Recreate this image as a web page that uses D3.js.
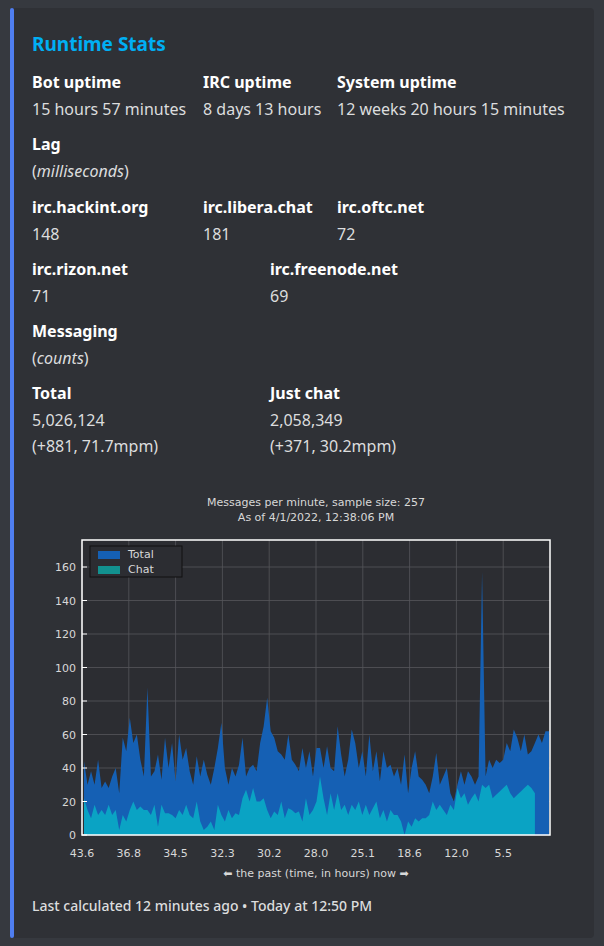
<!DOCTYPE html>
<html><head><meta charset="utf-8">
<script src="https://cdn.jsdelivr.net/npm/d3@7"></script>
<style>body{margin:0;background:#36393f;}svg{display:block}</style>
</head><body>
<script>
const xTickLabels=["43.6","36.8","34.5","32.3","30.2","28.0","25.1","18.6","12.0","5.5"];
const yTicks=[0,20,40,60,80,100,120,140,160];
const total=[44,30,38,30,45,28,32,28,35,40,25,58,50,70,55,60,45,35,88,35,38,48,33,58,40,55,32,60,45,52,38,30,47,35,45,36,30,40,52,67,40,30,40,35,42,58,35,40,42,38,55,65,82,62,58,50,48,45,60,45,42,38,52,40,50,35,52,52,40,53,40,38,65,48,35,45,63,55,40,50,35,60,38,50,32,50,40,42,35,40,30,48,25,40,50,35,33,30,25,35,49,30,35,40,25,20,30,38,30,38,35,30,35,157,35,45,40,45,43,45,55,50,63,58,50,60,48,50,55,60,55,62,62];
const chat=[22,15,10,18,12,15,12,18,12,15,3,12,8,15,20,15,17,15,15,12,18,5,18,13,13,12,10,15,12,18,12,10,20,8,3,5,8,3,18,12,8,15,10,13,12,22,27,20,28,20,20,22,15,10,14,12,20,10,16,15,13,14,8,22,12,15,20,35,22,12,25,15,25,15,18,12,18,15,20,12,18,12,16,20,10,15,8,15,12,12,8,0,8,5,10,8,10,10,12,20,15,18,15,12,18,15,28,22,25,18,22,25,20,30,28,30,22,24,26,28,30,25,22,24,26,28,30,28,25];
const svg=d3.select("body").append("svg").attr("width",604).attr("height",946);
svg.append("rect").attr("x",10).attr("y",8).attr("width",584).attr("height",930).attr("rx",4).attr("fill","#2f3136");
svg.append("rect").attr("x",10).attr("y",8).attr("width",4).attr("height",930).attr("rx",2).attr("fill","#4f7ef0");
const F="'Noto Sans',sans-serif";
function t(x,y,s,o={}){return svg.append("text").attr("x",x).attr("y",y).text(s).attr("font-family",F).attr("font-size",o.size||16).attr("font-weight",o.w||400).attr("fill",o.c||"#dcddde").attr("font-style",o.i?"italic":null);}
t(32,51,"Runtime Stats",{size:19,w:700,c:"#00aff4"});
const B={w:700,c:"#ffffff"};
t(32,88,"Bot uptime",B);t(203,88,"IRC uptime",B);t(337,88,"System uptime",B);
t(32,115,"15 hours 57 minutes");t(203,115,"8 days 13 hours");t(337,115,"12 weeks 20 hours 15 minutes");
t(32,150,"Lag",B);
const m=t(32,177,"(");m.append("tspan").attr("font-style","italic").text("milliseconds");m.append("tspan").text(")");
t(32,213,"irc.hackint.org",B);t(203,213,"irc.libera.chat",B);t(337,213,"irc.oftc.net",B);
t(32,240,"148");t(203,240,"181");t(337,240,"72");
t(32,275,"irc.rizon.net",B);t(270,275,"irc.freenode.net",B);
t(32,302,"71");t(270,302,"69");
t(32,337,"Messaging",B);
const c2=t(32,364,"(");c2.append("tspan").attr("font-style","italic").text("counts");c2.append("tspan").text(")");
t(32,399,"Total",B);t(270,399,"Just chat",B);
t(32,426,"5,026,124");t(270,426,"2,058,349");
t(32,452,"(+881, 71.7mpm)");t(270,452,"(+371, 30.2mpm)");
t(32,911,"Last calculated 12 minutes ago • Today at 12:50 PM",{size:14,w:500,c:"#dcddde"});
// chart
const CF="'DejaVu Sans',sans-serif", CC="#d8d8d8";
const L=82,R=550,T=540,Bt=835;
const x=d3.scaleLinear().domain([0,total.length-1]).range([L+2,R-1]);
const y=d3.scaleLinear().domain([0,160]).range([Bt,567]);
svg.append("text").attr("x",316).attr("y",506).attr("text-anchor","middle").attr("font-family",CF).attr("font-size",11).attr("fill",CC).text("Messages per minute, sample size: 257");
svg.append("text").attr("x",316).attr("y",521).attr("text-anchor","middle").attr("font-family",CF).attr("font-size",11).attr("fill",CC).text("As of 4/1/2022, 12:38:06 PM");
svg.append("rect").attr("x",L).attr("y",T).attr("width",R-L).attr("height",Bt-T).attr("fill","#2c2d32");
const xt=d3.scaleLinear().domain([0,xTickLabels.length]).range([L,R]);
const g=svg.append("g");
xTickLabels.forEach((s,i)=>{g.append("line").attr("x1",xt(i)).attr("x2",xt(i)).attr("y1",T).attr("y2",Bt).attr("stroke","#55565b").attr("stroke-width",0.8);});
yTicks.forEach(v=>{g.append("line").attr("x1",L).attr("x2",R).attr("y1",y(v)).attr("y2",y(v)).attr("stroke","#55565b").attr("stroke-width",0.8);});
const area=d=>d3.area().x((_,i)=>x(i)).y0(Bt).y1(v=>y(v)).curve(d3.curveLinear)(d);
svg.append("path").attr("d",area(total)).attr("fill","#1560b4");
svg.append("path").attr("d",area(chat)).attr("fill","#0aa3c4");
svg.append("rect").attr("x",L).attr("y",T).attr("width",R-L).attr("height",Bt-T).attr("fill","none").attr("stroke","#ffffff").attr("stroke-width",1.5);
yTicks.forEach(v=>{svg.append("line").attr("x1",L).attr("x2",L+5).attr("y1",y(v)).attr("y2",y(v)).attr("stroke","#fff");
svg.append("text").attr("x",L-6).attr("y",y(v)+4).attr("text-anchor","end").attr("font-family",CF).attr("font-size",11).attr("fill",CC).text(v);});
xTickLabels.forEach((s,i)=>{svg.append("text").attr("x",xt(i)).attr("y",857).attr("text-anchor","middle").attr("font-family",CF).attr("font-size",11).attr("fill",CC).text(s);});
svg.append("text").attr("x",316).attr("y",877).attr("text-anchor","middle").attr("font-family",CF).attr("font-size",11).attr("fill",CC).text("⬅ the past (time, in hours) now ➡");
const lg=svg.append("g");
lg.append("rect").attr("x",90).attr("y",546).attr("width",92).attr("height",31).attr("fill","#2c2d32").attr("stroke","#111");
lg.append("rect").attr("x",98).attr("y",551).attr("width",22).attr("height",8).attr("fill","#1560b4");
lg.append("rect").attr("x",98).attr("y",566).attr("width",22).attr("height",8).attr("fill","#12918f");
lg.append("text").attr("x",128).attr("y",558).attr("font-family",CF).attr("font-size",11).attr("fill",CC).text("Total");
lg.append("text").attr("x",128).attr("y",573).attr("font-family",CF).attr("font-size",11).attr("fill",CC).text("Chat");
</script></body></html>
